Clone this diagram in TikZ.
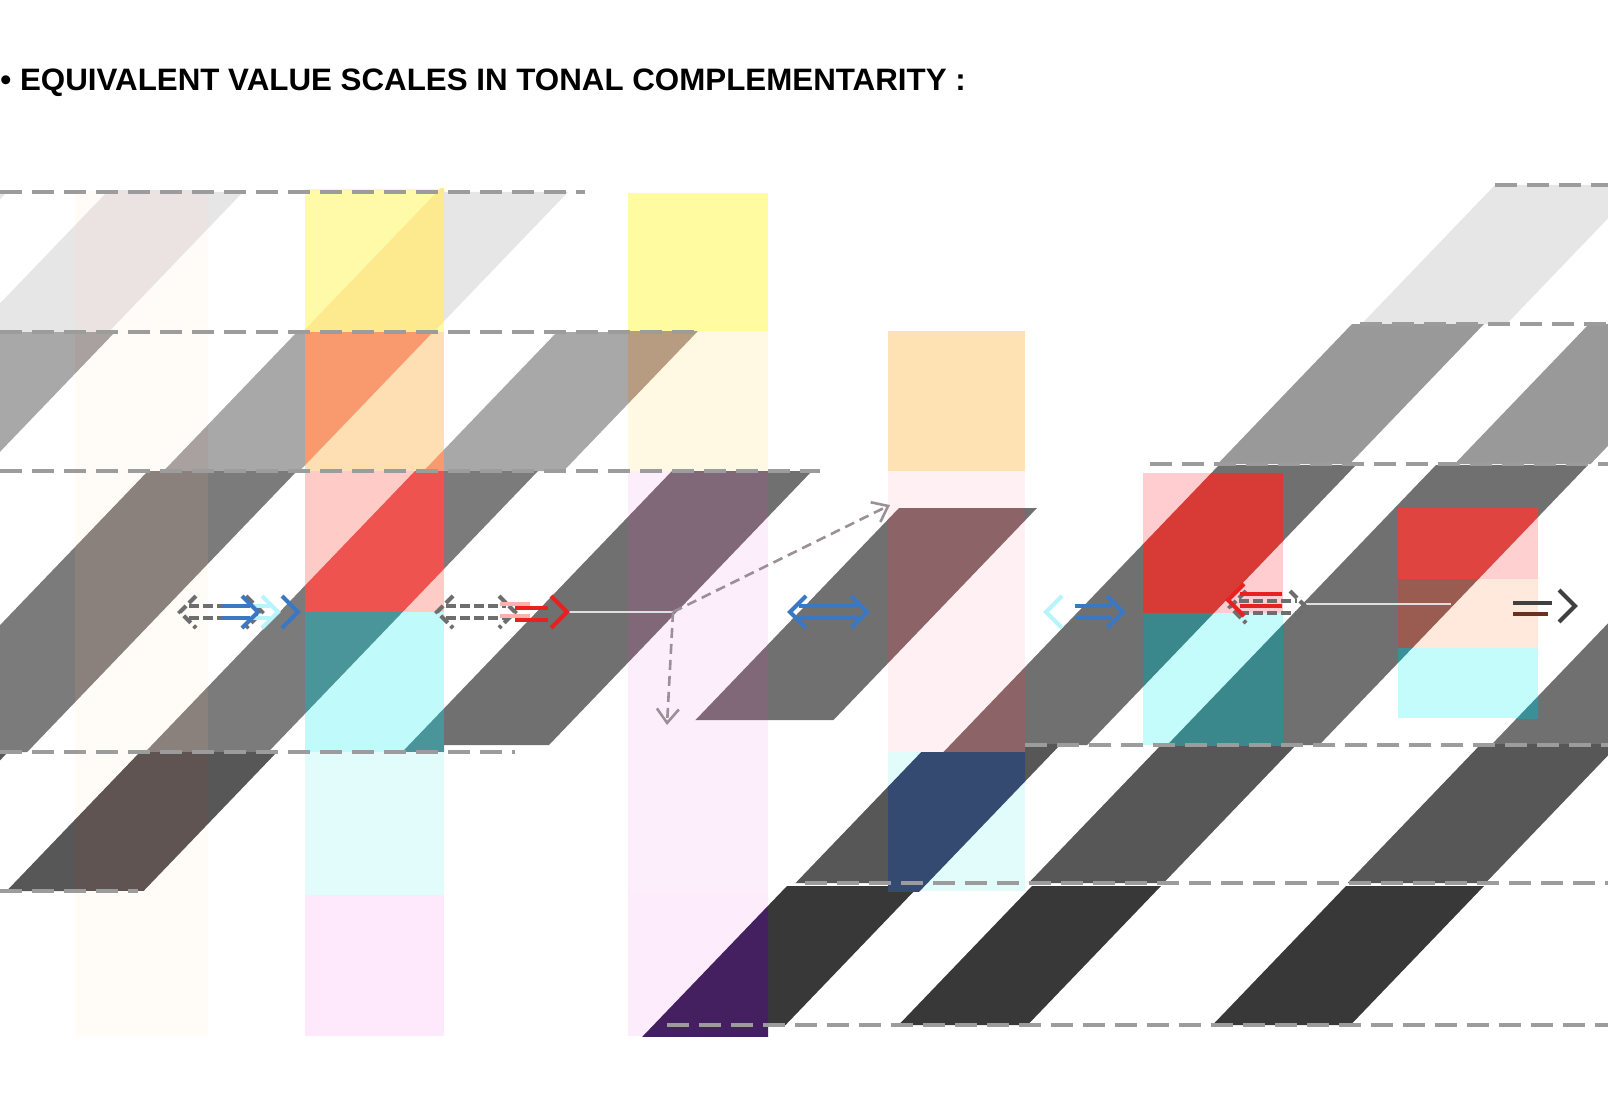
\documentclass[tikz,border=0pt]{standalone}
\usepackage{fontspec}
\setmainfont{Liberation Sans}
\usetikzlibrary{arrows.meta}
\definecolor{gA}{HTML}{E6E6E6}
\definecolor{gB}{HTML}{A8A8A8}
\definecolor{gBr}{HTML}{999999}
\definecolor{gC}{HTML}{7B7B7B}
\definecolor{gCr}{HTML}{707070}
\definecolor{gE}{HTML}{575757}
\definecolor{gF}{HTML}{383838}
\definecolor{cream}{HTML}{FFFCF8}
\definecolor{cOneA}{HTML}{EBE3E1}
\definecolor{cOneB}{HTML}{A9A0A0}
\definecolor{cOneC}{HTML}{8A807C}
\definecolor{cOneD}{HTML}{5F5452}
\definecolor{yelA}{HTML}{FFFAA8}
\definecolor{yelB}{HTML}{FDE98E}
\definecolor{yelC}{HTML}{FFFBA0}
\definecolor{orng}{HTML}{F99A6E}
\definecolor{peach}{HTML}{FEDFB4}
\definecolor{pinkA}{HTML}{FFCBC6}
\definecolor{redA}{HTML}{EF5350}
\definecolor{cyanA}{HTML}{C0FAFA}
\definecolor{tealA}{HTML}{4A959A}
\definecolor{cyanB}{HTML}{E2FCFC}
\definecolor{pinkB}{HTML}{FDE8FC}
\definecolor{creamC}{HTML}{FFF8E2}
\definecolor{tanC}{HTML}{B89C82}
\definecolor{lpinkC}{HTML}{FDEEFB}
\definecolor{purpC}{HTML}{806878}
\definecolor{lpinkD}{HTML}{FCECFC}
\definecolor{dpurp}{HTML}{442060}
\definecolor{peachD}{HTML}{FFE2B4}
\definecolor{lpinkE}{HTML}{FFF0F4}
\definecolor{mauve}{HTML}{8C6468}
\definecolor{navy}{HTML}{344A70}
\definecolor{pinkF}{HTML}{FFCDD0}
\definecolor{redF}{HTML}{D83A35}
\definecolor{cyanF}{HTML}{C4FCFC}
\definecolor{tealF}{HTML}{3A878C}
\definecolor{pinkG}{HTML}{FFD0D0}
\definecolor{redG}{HTML}{E04440}
\definecolor{peachG}{HTML}{FFE8DC}
\definecolor{brownG}{HTML}{9A5C50}
\definecolor{tealG}{HTML}{3A9098}
\definecolor{agray}{HTML}{6E6E6E}
\definecolor{ablue}{HTML}{3A78C4}
\definecolor{acyan}{HTML}{B8F4FC}
\definecolor{ared}{HTML}{E82020}
\definecolor{apink}{HTML}{FFB0B0}
\definecolor{adark}{HTML}{404040}
\definecolor{abrown}{HTML}{6A3020}
\definecolor{dashgray}{HTML}{9C9C9C}
\definecolor{amauve}{HTML}{9C9098}
\newcommand\slp{0.96}
\newcommand\bnd[5]{\fill[#1] (#4,#2) -- (#5,#2) -- ({#5-\slp*(#3-#2)},#3) -- ({#4-\slp*(#3-#2)},#3) -- cycle;}
\newcommand\bndx[5]{\fill[#1] ({#4+\slp*40},{#2-40}) -- ({#5+\slp*40},{#2-40}) -- ({#5-\slp*(#3-#2+40)},{#3+40}) -- ({#4-\slp*(#3-#2+40)},{#3+40}) -- cycle;}
\newcommand\blk[7]{\fill[#1] (#3,#4) rectangle (#5,#6); \begin{scope}\clip (#3,#4) rectangle (#5,#6); \colorlet{ic}{#2}#7\end{scope}}
\newcommand\dbl[5]{%
  \draw[#1,arrowline,#5] (#2+9,#4-6) -- (#3-9,#4-6) (#2+9,#4+6) -- (#3-9,#4+6);
  \draw[#1,arrowline,#5] (#2+16,#4-16) -- (#2,#4) -- (#2+16,#4+16) (#3-16,#4-16) -- (#3,#4) -- (#3-16,#4+16);}
\newcommand\lines[5]{\draw[#1,arrowline,#5] (#2,#4-6) -- (#3,#4-6) (#2,#4+6) -- (#3,#4+6);}
\newcommand\chev[5]{\draw[#1,arrowline,#5] ({#2-(#4)*16},#3-16) -- (#2,#3) -- ({#2-(#4)*16},#3+16);}
\begin{document}
\begin{tikzpicture}[x=0.5pt,y=-0.5pt,
  arrowline/.style={line width=2pt,line cap=butt,line join=miter},
  rule/.style={dashgray,line width=1.6pt,dash pattern=on 11pt off 5pt},
  guide/.style={amauve,line width=1.3pt,dash pattern=on 5pt off 3pt,-{Straight Barb[length=7pt,width=11pt]}}]
\useasboundingbox (0,0) rectangle (1608,1113);
\fill[white] (0,0) rectangle (1608,1113);
% ---------- background bands ----------
% row 1
\bnd{gA}{192}{332}{-150}{7}
\bnd{gA}{192}{332}{107}{243}
\bnd{gA}{192}{332}{437}{568}
\bnd{gA}{185}{324}{1495}{1640}
% row 2
\bnd{gB}{332}{471}{-200}{115}
\bnd{gB}{332}{471}{297}{433}
\bnd{gB}{332}{471}{557}{697}
\bnd{gBr}{324}{464}{1352}{1484}
\bnd{gBr}{324}{464}{1589}{1725}
% rows 3-4
\bnd{gC}{471}{752}{148}{297}
\bnd{gC}{471}{752}{415}{538}
\bnd{gCr}{471}{745}{672}{812}
\bnd{gCr}{508}{720}{899}{1037}
\bnd{gCr}{465}{745}{1219}{1356}
\bnd{gCr}{465}{745}{1436}{1588}
\bnd{gCr}{465}{745}{1760}{1900}
% row 5
\bnd{gE}{752}{891}{-130}{8}
\bnd{gE}{752}{891}{140}{277}
\bnd{gE}{744}{883}{929}{1061}
\bnd{gE}{744}{883}{1162}{1297}
\bnd{gE}{744}{883}{1481}{1619}
% row 6
\bnd{gF}{886}{1025}{787}{919}
\bnd{gF}{886}{1025}{1032}{1161}
\bnd{gF}{886}{1025}{1346}{1484}
% ---------- column 1 ----------
\blk{cream}{cOneA}{75}{191}{208}{332}{\bndx{ic}{192}{332}{107}{243}}
\blk{cream}{cOneB}{75}{332}{208}{471}{\bndx{ic}{332}{471}{-200}{115}\bndx{ic}{332}{471}{297}{433}}
\blk{cream}{cOneC}{75}{471}{208}{752}{\bndx{ic}{471}{752}{148}{297}\bndx{ic}{471}{752}{415}{538}}
\blk{cream}{cOneD}{75}{752}{208}{891}{\bndx{ic}{752}{891}{140}{277}\bndx{ic}{752}{891}{-130}{8}}
\fill[cream] (75,891) rectangle (208,1036);
% ---------- column 2 ----------
\blk{yelA}{yelB}{305}{189}{444}{332}{\bndx{ic}{192}{332}{437}{568}}
\blk{peach}{orng}{305}{332}{444}{471}{\bndx{ic}{332}{471}{297}{433}\bndx{ic}{332}{471}{557}{697}}
\blk{pinkA}{redA}{305}{471}{444}{612}{\bndx{ic}{471}{752}{415}{538}\bndx{ic}{471}{752}{672}{812}}
\blk{cyanA}{tealA}{305}{612}{444}{752}{\bndx{ic}{471}{752}{415}{538}\bndx{ic}{471}{752}{672}{812}}
\fill[cyanB] (305,752) rectangle (444,895);
\fill[pinkB] (305,895) rectangle (444,1036);
% ---------- column 3 ----------
\fill[yelC] (628,193) rectangle (768,331);
\blk{creamC}{tanC}{628}{331}{768}{471}{\bndx{ic}{332}{471}{557}{697}}
\blk{lpinkC}{purpC}{628}{471}{768}{752}{\bndx{ic}{471}{745}{672}{812}\bnd{ic}{508}{720}{899}{1037}}
\fill[lpinkC] (628,752) rectangle (768,891);
\blk{lpinkD}{dpurp}{628}{891}{768}{1036}{\bndx{ic}{886}{1025}{787}{919}}
% ---------- column 4 ----------
\fill[peachD] (888,331) rectangle (1025,471);
\fill[lpinkE] (888,471) rectangle (1025,508);
\blk{lpinkE}{mauve}{888}{508}{1025}{752}{\bnd{ic}{508}{720}{899}{1037}\bndx{ic}{465}{745}{1219}{1356}}
\blk{cyanB}{navy}{888}{752}{1025}{891}{\bndx{ic}{744}{883}{929}{1061}}
% ---------- column 5 ----------
\blk{pinkF}{redF}{1143}{473}{1283}{613}{\bndx{ic}{465}{745}{1219}{1356}\bndx{ic}{465}{745}{1436}{1588}}
\blk{cyanF}{tealF}{1143}{613}{1283}{745}{\bndx{ic}{465}{745}{1219}{1356}\bndx{ic}{465}{745}{1436}{1588}}
% ---------- column 6 ----------
\blk{pinkG}{redG}{1398}{508}{1538}{579}{\bndx{ic}{465}{745}{1436}{1588}\bndx{ic}{465}{745}{1760}{1900}}
\blk{peachG}{brownG}{1398}{579}{1538}{648}{\bndx{ic}{465}{745}{1436}{1588}\bndx{ic}{465}{745}{1760}{1900}}
\blk{cyanF}{tealG}{1398}{648}{1538}{718}{\bndx{ic}{465}{745}{1436}{1588}\bndx{ic}{465}{745}{1760}{1900}}
% ---------- dashed rules ----------
\draw[rule] (0,192) -- (585,192);
\draw[rule] (1495,185) -- (1608,185);
\draw[rule] (0,332) -- (700,332);
\draw[rule] (1360,324) -- (1608,324);
\draw[rule] (0,471) -- (820,471);
\draw[rule] (1150,464) -- (1608,464);
\draw[rule] (0,752) -- (515,752);
\draw[rule] (1025,745) -- (1608,745);
\draw[rule] (0,891) -- (138,891);
\draw[rule] (805,883) -- (1608,883);
\draw[rule] (667,1025) -- (1608,1025);
% ---------- connectors ----------
\coordinate (hub) at (673,612);
\coordinate (redtip) at (567,612);
\coordinate (upend) at (890,505);
\coordinate (downend) at (667,725);
\coordinate (graytip) at (1306,604);
\coordinate (sixleft) at (1451,604);
\draw[white!75!gray,line width=1pt] (redtip) -- (hub);
\draw[white!75!gray,line width=1pt] (graytip) -- (sixleft);
\draw[guide] (hub) -- (upend);
\draw[guide] (hub) -- (downend);
% ---------- arrows ----------
\dbl{agray}{180}{262}{612}{dash pattern=on 5pt off 2pt}
\lines{acyan}{240}{270}{612}{}
\chev{acyan}{278}{612}{1}{}
\lines{ablue}{222}{250}{612}{}
\chev{ablue}{258}{612}{1}{}
\chev{ablue}{298}{612}{1}{}
\dbl{agray}{437}{515}{612}{dash pattern=on 5pt off 2pt}
\lines{apink}{500}{530}{610}{}
\lines{ared}{515}{548}{614}{}
\chev{ared}{567}{612}{1}{}
\dbl{ablue}{790}{867}{612}{}
\chev{acyan}{1046}{612}{-1}{}
\lines{ablue}{1075}{1112}{612}{}
\chev{ablue}{1123}{612}{1}{}
\dbl{agray}{1230}{1306}{607}{dash pattern=on 5pt off 2pt}
\lines{ared}{1240}{1282}{600}{}
\chev{ared}{1228}{600}{-1}{}
\draw[adark,arrowline] (1513,603) -- (1552,603);
\draw[abrown,arrowline] (1513,614) -- (1548,614);
\chev{adark}{1575}{606}{1}{}
% ---------- title ----------
\node[anchor=west,inner sep=0pt,font=\bfseries\fontsize{15.5}{18}\selectfont] (title) at (0,83)
  {\scalebox{1.01}[1]{• EQUIVALENT VALUE SCALES IN TONAL COMPLEMENTARITY :}};
\end{tikzpicture}
\end{document}
